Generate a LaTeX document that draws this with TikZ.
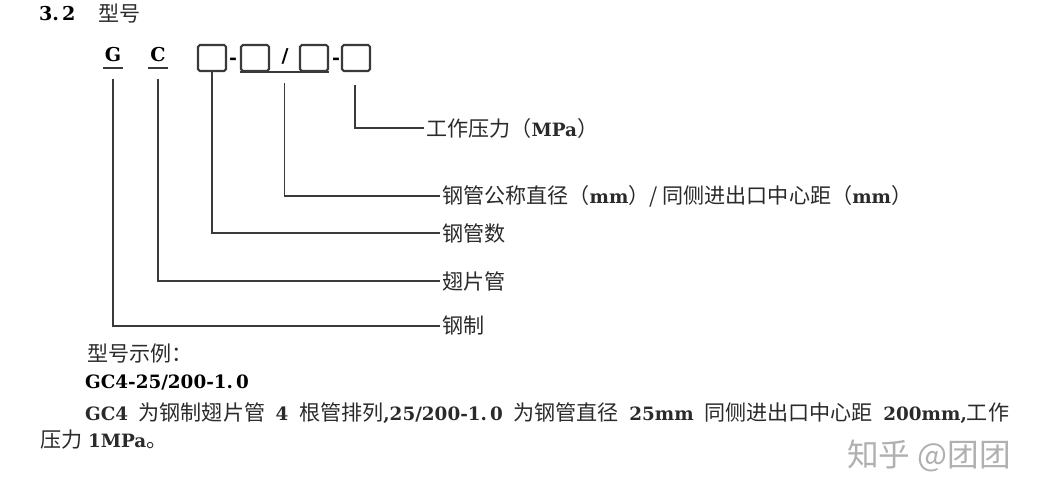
\documentclass[tikz,border=0pt]{standalone}
\usepackage{fontspec}
\setmainfont{DejaVu Serif}[Scale=0.87]
\newfontfamily\cjk{Noto Sans CJK SC}
\newcommand{\zh}[1]{{\cjk #1}}
\usetikzlibrary{calc}
\definecolor{inkgray}{HTML}{2A2A2A}
\definecolor{leadgray}{HTML}{3A3A3A}
\definecolor{markgray}{HTML}{B0B0B0}

\tikzset{
  txt/.style={anchor=west, inner sep=0pt, inner xsep=1pt, text=inkgray, font=\fontsize{12pt}{14pt}\selectfont},
  codech/.style={font=\fontsize{12.5pt}{14pt}\selectfont\bfseries, inner sep=0pt, text height=0.7em, text depth=0pt, minimum width=0.4cm, minimum height=0.45cm},
  codebox/.style={draw=leadgray, line width=1.2pt, rounded corners=1pt, minimum width=0.56cm, minimum height=0.52cm, inner sep=0pt},
  lead/.style={draw=leadgray, line width=1pt},
}

\begin{document}
\begin{tikzpicture}[x=0.02cm, y=-0.02cm]
\useasboundingbox (0,0) rectangle (1040,499);

% Heading
\node[txt, font=\fontsize{12.5pt}{14pt}\selectfont\bfseries, text=black] (secnum) at (37,14) {3.\,2};
\node[txt] (sectitle) at (96,14) {\zh{型号}};

% Model code
\node[codech] (gch) at (113,56) {G};
\node[codech] (cch) at (158,56) {C};
\draw[lead, line width=1.2pt] (gch.south west) -- (gch.south east);
\draw[lead, line width=1.2pt] (cch.south west) -- (cch.south east);

\node[codebox] (box1) at (212,58) {};
\node[codech, minimum width=0pt] (dash1) at (233,59) {-};
\node[codebox] (box2) at (255,58) {};
\node[codech, minimum width=0pt] (slash) at (285,57) {/};
\node[codebox] (box3) at (314,58) {};
\node[codech, minimum width=0pt] (dash2) at (336,59) {-};
\node[codebox] (box4) at (356,58) {};
\draw[lead, line width=1.2pt] (box2.south west) -- (box3.south east);
\coordinate (mid23) at ($(box2.south east)!0.5!(box3.south west)$);

% Labels
\node[txt] (press) at (424,128) {\zh{工作压力（}\textbf{MPa}\zh{）}};
\node[txt] (size) at (440,196) {\zh{钢管公称直径（}\textbf{mm}\zh{）/ 同侧进出口中心距（}\textbf{mm}\zh{）}};
\node[txt] (tubes) at (440,233) {\zh{钢管数}};
\node[txt] (fins) at (440,281) {\zh{翅片管}};
\node[txt] (steel) at (440,326) {\zh{钢制}};

% Lead lines
\draw[lead] ($(box4.south)+(-1,13)$) |- (press.west);
\draw[lead] ($(mid23)+(0,11)$) |- (size.west);
\draw[lead] (box1.south) |- (tubes.west);
\draw[lead] ($(cch.south)+(0,11)$) |- (fins.west);
\draw[lead] ($(gch.south)+(0,11)$) |- (steel.west);

% Example
\node[txt] (exhead) at (85,354) {\zh{型号示例：}};
\node[txt, text=black, font=\fontsize{12pt}{14pt}\selectfont\bfseries] (excode) at (83,383) {GC4-25/200-1.\,0};
\node[txt] (exdesc) at (83,413) {\spaceskip=6pt\textbf{GC4} \zh{为钢制翅片管} \textbf{4} \zh{根管排列}\textbf{,25/200-1.\,0} \zh{为钢管直径} \textbf{25mm} \zh{同侧进出口中心距} \textbf{200mm,}\zh{工作}};
\node[txt] (exdesc2) at (38,440) {\zh{压力} \textbf{1MPa}\zh{。}};

% Watermark
\node[txt, text=markgray, font=\fontsize{18pt}{20pt}\selectfont] (mark) at (845,456) {\zh{知乎 @团团}};

\end{tikzpicture}
\end{document}
